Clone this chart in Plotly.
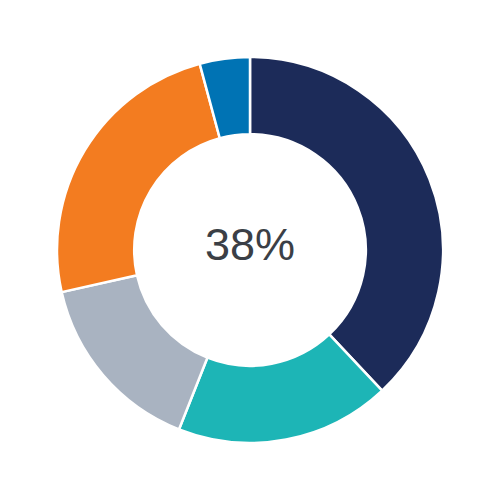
import plotly.graph_objects as go

labels = ["A", "B", "C", "D", "E"]
values = [38, 18, 15.5, 24.3, 4.2]
colors = ["#1c2b59", "#1db5b6", "#a9b3c1", "#f37c20", "#0073b4"]
center_text = "38%"

fig = go.Figure(go.Pie(
    labels=labels,
    values=values,
    hole=0.6,
    sort=False,
    direction="clockwise",
    rotation=0,
    textinfo="none",
    hoverinfo="none",
    marker=dict(colors=colors, line=dict(color="white", width=2.5)),
))

fig.add_annotation(
    text=center_text, x=0.5, y=0.513, xref="paper", yref="paper",
    showarrow=False,
    font=dict(family="Liberation Sans, Arial", size=45, color="#3b3f46"),
)

# page adds an 8px offset, so shift the plot area up/left
fig.update_layout(
    width=500, height=500,
    margin=dict(l=49, r=65, t=49, b=65),
    showlegend=False,
    paper_bgcolor="white",
    plot_bgcolor="white",
)

fig.write_html("out.html")
